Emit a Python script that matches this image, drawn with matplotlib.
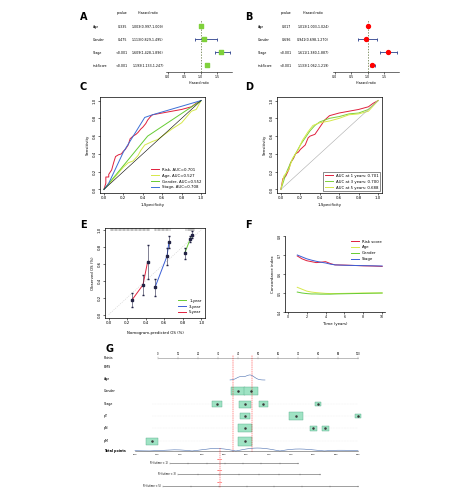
import matplotlib
matplotlib.use("Agg")
import matplotlib.pyplot as plt
import numpy as np

W, H = 474, 498
fig = plt.figure(figsize=(W/100, H/100), dpi=100)
def axp(x0, y0, x1, y1):
    return fig.add_axes([x0/W, 1-y1/H, (x1-x0)/W, (y1-y0)/H])
FS = 2.3

# ---------- data ----------
vars_ = ["Age", "Gender", "Stage", "riskScore"]
pA = ["0.335", "0.475", "<0.001", "<0.001"]
hrA = [1.003, 1.113, 1.609, 1.193]; loA = [0.997, 0.829, 1.428, 1.133]; hiA = [1.009, 1.495, 1.896, 1.247]
pB = ["0.017", "0.696", "<0.001", "<0.001"]
hrB = [1.013, 0.941, 1.611, 1.133]; loB = [1.003, 0.698, 1.380, 1.062]; hiB = [1.024, 1.270, 1.887, 1.219]

c_risk_x = [0, 0.02, 0.02, 0.05, 0.05, 0.08, 0.1, 0.12, 0.15, 0.18, 0.2, 0.22, 0.25, 0.27, 0.3, 0.33, 0.35, 0.38, 0.4, 0.43, 0.45, 0.48, 0.5, 0.6, 0.7, 0.8, 0.9, 0.95, 1.0]
c_risk_y = [0, 0.07, 0.14, 0.14, 0.17, 0.22, 0.3, 0.37, 0.39, 0.4, 0.43, 0.45, 0.5, 0.57, 0.6, 0.62, 0.64, 0.68, 0.7, 0.74, 0.78, 0.82, 0.84, 0.86, 0.88, 0.9, 0.93, 0.97, 1.0]
c_age_x = [0, 0.1, 0.2, 0.25, 0.3, 0.35, 0.38, 0.42, 0.5, 0.55, 0.6, 0.7, 0.8, 0.9, 0.95, 1.0]
c_age_y = [0, 0.12, 0.25, 0.3, 0.32, 0.38, 0.44, 0.5, 0.54, 0.56, 0.6, 0.68, 0.75, 0.88, 0.9, 1.0]
c_gen_x = [0, 0.45, 1.0]
c_gen_y = [0, 0.6, 1.0]
c_stg_x = [0, 0.05, 0.2, 0.42, 0.5, 1.0]
c_stg_y = [0, 0.07, 0.42, 0.81, 0.84, 1.0]
aucC = ["Risk, AUC=0.701", "Age, AUC=0.527", "Gender, AUC=0.552", "Stage, AUC=0.708"]

d1_x = [0, 0.02, 0.05, 0.08, 0.1, 0.13, 0.15, 0.18, 0.2, 0.25, 0.28, 0.3, 0.35, 0.4, 0.45, 0.5, 0.6, 0.7, 0.8, 0.9, 0.95, 1.0]
d1_y = [0, 0.12, 0.15, 0.22, 0.3, 0.35, 0.4, 0.42, 0.45, 0.5, 0.58, 0.6, 0.62, 0.7, 0.78, 0.83, 0.86, 0.88, 0.9, 0.93, 0.97, 1.0]
d3_x = [0, 0.03, 0.06, 0.1, 0.15, 0.2, 0.25, 0.3, 0.35, 0.4, 0.5, 0.6, 0.7, 0.8, 0.9, 1.0]
d3_y = [0, 0.1, 0.2, 0.3, 0.4, 0.5, 0.58, 0.66, 0.72, 0.76, 0.8, 0.82, 0.85, 0.86, 0.9, 1.0]
d5_x = [0, 0.03, 0.08, 0.12, 0.18, 0.22, 0.28, 0.33, 0.4, 0.5, 0.6, 0.7, 0.8, 0.9, 1.0]
d5_y = [0, 0.15, 0.22, 0.35, 0.45, 0.55, 0.65, 0.72, 0.75, 0.77, 0.8, 0.84, 0.85, 0.88, 1.0]
aucD = ["AUC at 1 years: 0.701", "AUC at 3 years: 0.700", "AUC at 5 years: 0.688"]

e1_x = [0.82, 0.88, 0.90]; e1_y = [0.72, 0.89, 0.94]; e1_e = [0.07, 0.04, 0.04]
e3_x = [0.50, 0.63, 0.65]; e3_y = [0.32, 0.69, 0.85]; e3_e = [0.1, 0.1, 0.07]
e5_x = [0.25, 0.37, 0.42]; e5_y = [0.17, 0.35, 0.62]; e5_e = [0.08, 0.12, 0.2]

f_t = [1, 1.5, 2, 2.5, 3, 3.5, 4, 4.5, 5, 6, 7, 8, 9, 10]
f_risk = [0.695, 0.68, 0.67, 0.665, 0.66, 0.662, 0.665, 0.655, 0.648, 0.647, 0.645, 0.643, 0.642, 0.64]
f_age = [0.53, 0.52, 0.51, 0.505, 0.502, 0.5, 0.498, 0.497, 0.497, 0.498, 0.499, 0.5, 0.5, 0.5]
f_gen = [0.505, 0.5, 0.497, 0.495, 0.495, 0.494, 0.494, 0.494, 0.495, 0.496, 0.497, 0.498, 0.499, 0.5]
f_stg = [0.7, 0.69, 0.68, 0.673, 0.667, 0.662, 0.658, 0.652, 0.648, 0.646, 0.645, 0.644, 0.643, 0.642]

g_rows = ["Points", "BMS", "Age", "Gender", "Stage", "pT", "pN", "pM", "Total points"]

# ---------- labels ----------
for t, x, y in [("A", 80, 20), ("B", 245, 20), ("C", 80, 90), ("D", 245, 90),
                ("E", 80, 228), ("F", 245, 228), ("G", 105, 352)]:
    fig.text(x/W, 1-y/H, t, fontsize=7, fontweight="bold")

# ---------- A / B ----------
def forest(tx, px, hx, ax_rect, p, hr, lo, hi, col):
    ys = [27, 40, 53, 66]
    fig.text(px/W, 1-14/H, "pvalue", fontsize=FS, ha="center")
    fig.text(hx/W, 1-14/H, "Hazard ratio", fontsize=FS, ha="center")
    for i, v in enumerate(vars_):
        fig.text(tx/W, 1-ys[i]/H, v, fontsize=FS, va="center")
        fig.text(px/W, 1-ys[i]/H, p[i], fontsize=FS, va="center", ha="center")
        fig.text(hx/W, 1-ys[i]/H, f"{hr[i]:.3f}({lo[i]:.3f}-{hi[i]:.3f})", fontsize=FS, va="center", ha="center")
    a = axp(*ax_rect)
    yy = np.arange(4)[::-1]
    a.hlines(yy, lo, hi, color="#2b3f8c", lw=0.6)
    a.vlines(lo, yy-0.08, yy+0.08, color="#2b3f8c", lw=0.6)
    a.vlines(hi, yy-0.08, yy+0.08, color="#2b3f8c", lw=0.6)
    a.scatter(hr, yy, s=8, color=col, marker="s" if col != "red" else "o", zorder=3)
    a.axvline(1, color="#556b2f", ls=(0, (2, 2)), lw=0.5)
    a.set_xlim(-0.05, 1.95); a.set_ylim(-0.5, 3.5)
    a.set_xticks([0, 0.5, 1.0, 1.5]); a.set_xticklabels(["0.0", "0.5", "1.0", "1.5"])
    a.tick_params(labelsize=FS, length=1.5, width=0.4, pad=1)
    a.set_yticks([])
    for s in ["top", "right", "left"]:
        a.spines[s].set_visible(False)
    a.spines["bottom"].set_linewidth(0.4)
    a.set_xlabel("Hazard ratio", fontsize=FS, labelpad=1)
forest(93, 122, 148, (166, 20, 232, 72), pA, hrA, loA, hiA, "#7fd13b")
forest(258, 286, 313, (333, 20, 399, 72), pB, hrB, loB, hiB, "red")

# ---------- C ----------
def roc_ax(rect):
    a = axp(*rect)
    a.set_xlim(-0.04, 1.04); a.set_ylim(-0.04, 1.04)
    a.set_xticks(np.arange(0, 1.01, 0.2)); a.set_yticks(np.arange(0, 1.01, 0.2))
    a.set_xticklabels([f"{v:.1f}" for v in np.arange(0, 1.01, 0.2)])
    a.set_yticklabels([f"{v:.1f}" for v in np.arange(0, 1.01, 0.2)], rotation=90, va="center")
    a.tick_params(labelsize=FS+0.5, length=1.5, width=0.4, pad=1)
    for s in a.spines.values(): s.set_linewidth(0.5)
    a.set_xlabel("1-Specificity", fontsize=FS+0.5, labelpad=2)
    a.set_ylabel("Sensitivity", fontsize=FS+0.5, labelpad=2)
    return a
a = roc_ax((100, 97, 205, 193))
a.plot(c_risk_x, c_risk_y, color="#e0203c", lw=0.7, label=aucC[0])
a.plot(c_age_x, c_age_y, color="#d6e84a", lw=0.7, label=aucC[1])
a.plot(c_gen_x, c_gen_y, color="#66cc33", lw=0.7, label=aucC[2])
a.plot(c_stg_x, c_stg_y, color="#3b6fd6", lw=0.7, label=aucC[3])
a.plot([0, 1], [0, 1], color="black", lw=0.4)
a.legend(loc="lower right", fontsize=FS+0.5, frameon=False, handlelength=2)

a = roc_ax((277, 97, 382, 193))
a.plot(d1_x, d1_y, color="#e0203c", lw=0.7, label=aucD[0])
a.plot(d3_x, d3_y, color="#7fd13b", lw=0.7, label=aucD[1])
a.plot(d5_x, d5_y, color="#d6e84a", lw=0.7, label=aucD[2])
a.plot([0, 1], [0, 1], color="#aaaaaa", lw=0.4)
a.legend(loc="lower right", fontsize=FS+0.5, frameon=True, edgecolor="black", fancybox=False, handlelength=2).get_frame().set_linewidth(0.4)

# ---------- E ----------
a = axp(105, 228, 205, 318)
a.plot([0, 1], [0, 1], color="#cccccc", lw=0.4, ls=(0, (2, 2)))
for xs, ys, es, c, lb in [(e1_x, e1_y, e1_e, "#66cc33", "1-year"), (e3_x, e3_y, e3_e, "#3b5fd6", "3-year"), (e5_x, e5_y, e5_e, "#e0203c", "5-year")]:
    a.plot(xs, ys, color=c, lw=0.7, label=lb)
    a.errorbar(xs, ys, yerr=es, fmt="s", color="#222244", ms=1.5, lw=0.4, capsize=1)
rug = np.concatenate([np.linspace(0.02, 0.44, 30), np.linspace(0.5, 0.66, 12), np.linspace(0.84, 0.92, 8)])
a.vlines(rug, 0.99, 1.02, color="#555555", lw=0.3)
a.set_xlim(-0.04, 1.04); a.set_ylim(-0.04, 1.02)
a.set_xticks(np.arange(0, 1.01, 0.2)); a.set_yticks(np.arange(0, 1.01, 0.2))
a.set_xticklabels([f"{v:.1f}" for v in np.arange(0, 1.01, 0.2)])
a.set_yticklabels([f"{v:.1f}" for v in np.arange(0, 1.01, 0.2)], rotation=90, va="center")
a.tick_params(labelsize=FS+0.5, length=1.5, width=0.4, pad=1)
for s in a.spines.values(): s.set_linewidth(0.5)
a.set_xlabel("Nomogram-predicted OS (%)", fontsize=FS+0.5, labelpad=4)
a.set_ylabel("Observed OS (%)", fontsize=FS+0.5, labelpad=2)
a.legend(loc="lower right", fontsize=FS+0.5, frameon=False, handlelength=2)

# ---------- F ----------
a = axp(285, 236, 385, 312)
a.plot(f_t, f_risk, color="#e0203c", lw=0.7, label="Risk score")
a.plot(f_t, f_age, color="#d6e84a", lw=0.7, label="Age")
a.plot(f_t, f_gen, color="#66cc33", lw=0.7, label="Gender")
a.plot(f_t, f_stg, color="#3b5fd6", lw=0.7, label="Stage")
a.set_xlim(-0.3, 10.3); a.set_ylim(0.4, 0.8)
a.set_xticks([0, 2, 4, 6, 8, 10]); a.set_yticks([0.4, 0.5, 0.6, 0.7, 0.8])
a.set_yticklabels(["0.4", "0.5", "0.6", "0.7", "0.8"], rotation=90, va="center")
a.tick_params(labelsize=FS, length=1.5, width=0.4, pad=1)
for s in ["top", "right"]: a.spines[s].set_visible(False)
for s in ["left", "bottom"]: a.spines[s].set_linewidth(0.5)
a.set_xlabel("Time (years)", fontsize=FS+0.5, labelpad=2)
a.set_ylabel("Concordance index", fontsize=FS+0.5, labelpad=2)
a.legend(loc="upper right", fontsize=FS+0.5, frameon=False, handlelength=2)

# ---------- G nomogram ----------
a = axp(60, 348, 362, 496)
a.set_xlim(0, 302); a.set_ylim(148, 0); a.axis("off")
rowy = [10, 19, 31, 43, 56, 68, 80, 93, 103]
for lab, y in zip(g_rows, rowy):
    a.text(44, y, lab, fontsize=FS, va="center", fontweight="bold" if lab == "Total points" else "normal")
pts = np.linspace(98, 298, 11)
a.plot([98, 298], [10, 10], color="#888888", lw=0.4)
for i, p in enumerate(pts):
    a.plot([p, p], [9, 11], color="#888888", lw=0.3)
    a.text(p, 8, str(i*10), fontsize=1.8, ha="center", va="bottom")
a.axvline(192, ymin=0.3, ymax=0.95, color="red", lw=0.3, ls="--")
a.axvline(173, ymin=0.3, ymax=0.95, color="red", lw=0.3, ls="--")
xx = np.linspace(170, 205, 40)
a.plot(xx, 32 - 5*np.exp(-((xx-190)/6)**2) - 3*np.exp(-((xx-180)/5)**2), color="#4a6fb0", lw=0.4)
boxes = [(178, 43, 14, 8), (191, 43, 14, 8), (157, 56, 10, 6), (185, 56, 12, 7), (203, 56, 9, 6), (258, 56, 6, 4),
         (185, 68, 10, 6), (236, 68, 14, 8), (337, 68, 6, 4), (185, 80, 14, 8), (253, 80, 7, 5), (265, 80, 7, 5),
         (185, 93, 14, 9), (92, 93, 12, 7)]
for (bx, by, bw, bh) in boxes:
    if bx > 300: bx = 298
    a.add_patch(plt.Rectangle((bx-bw/2, by-bh/2), bw, bh, facecolor="#9fe3c4", edgecolor="#55aa88", lw=0.3))
    a.plot(bx, by, "o", ms=0.8, color="#333333")
for y in [56, 68, 80, 93]:
    a.plot([92, 298], [y, y], color="#cccccc", lw=0.2, ls=":")
tp = np.linspace(75, 298, 200)
a.plot(tp, 103 - 3*np.abs(np.sin(tp/14)) * np.exp(-((tp-190)/80)**2), color="#4a6fb0", lw=0.4)
a.plot([75, 298], [103, 103], color="#555555", lw=0.4)
for i, v in enumerate(np.linspace(75, 298, 11)):
    a.text(v, 106, str(20*i+100) if i else "100", fontsize=1.7, ha="center", va="top")
for y, lab, lo, hi in [(115, "Pr(futime < 1)", 110, 238), (126, "Pr(futime < 3)", 118, 260), (138, "Pr(futime < 5)", 103, 298)]:
    a.text(lo-2, y, lab, fontsize=1.8, ha="right", va="center")
    a.plot([lo, hi], [y, y], color="#555555", lw=0.4)
    for t in np.linspace(lo, hi, 8):
        a.plot([t, t], [y, y+1], color="#555555", lw=0.3)
    a.text(160, y-3, "0.852", fontsize=1.6, color="red", ha="center")
a.plot([160, 160], [100, 140], color="red", lw=0.3, ls="--")

fig.savefig("out.png", dpi=100)
